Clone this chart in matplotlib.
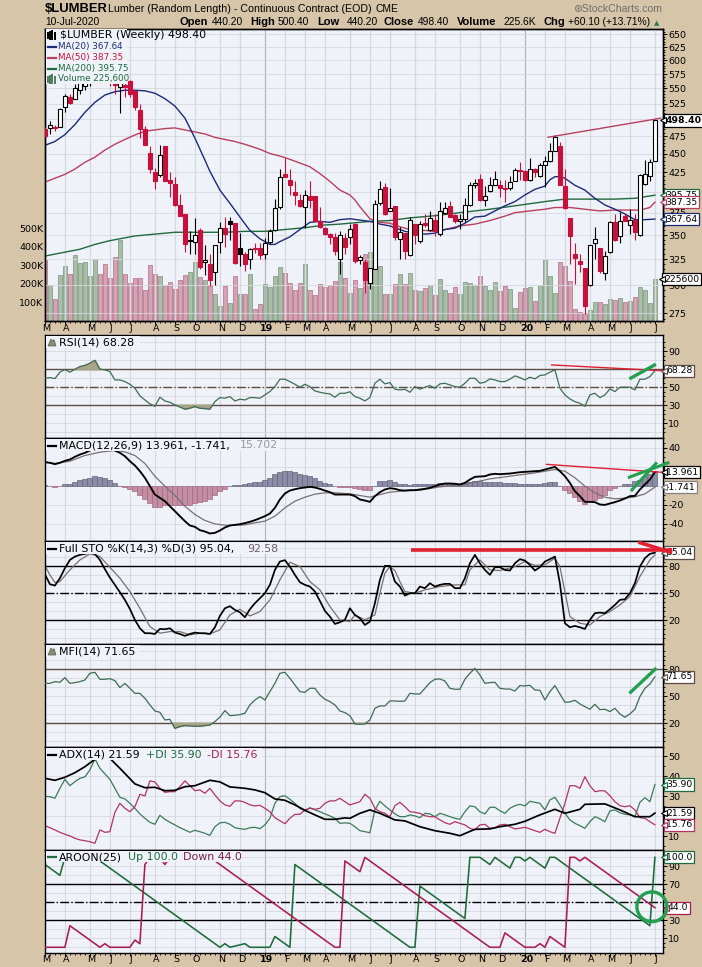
import numpy as np
import matplotlib
matplotlib.use("Agg")
import matplotlib.pyplot as plt
from matplotlib.lines import Line2D
from matplotlib.patches import Rectangle, Ellipse, Polygon
from matplotlib.transforms import blended_transform_factory

W, H = 702, 967

# --- price data, weekly, March 2018 to July 2020 ---
opens = [485, 487, 489, 489, 519, 535, 532, 547, 555, 560, 565, 575, 572, 568, 558, 552, 556, 562, 546, 515,
         485, 451, 425, 421, 460, 415, 410, 384, 373, 344.5, 343, 356, 322, 320, 312, 343, 358, 365, 363, 336,
         330, 325, 336, 336, 330, 343, 355, 382, 422, 415, 400, 390, 382, 395, 395, 366, 358, 351, 348, 325,
         347, 348, 362, 324, 322, 302, 315, 386, 406, 377, 383, 346, 352, 329, 362, 344, 363, 355, 367, 351,
         375, 383, 372, 365, 368, 384, 408, 416, 390, 401, 409, 409, 405, 405, 413, 428, 427, 415, 429, 420,
         434, 440, 454, 461, 407, 369, 330, 323, 316, 300, 342, 336, 311, 332, 364, 349, 371, 361, 367, 350,
         410, 420, 440.2]
highs = [489, 497, 492, 518, 541, 541, 558, 580, 580, 585, 590, 590, 585, 580, 558, 585, 566, 565, 548, 524,
         490, 460, 430, 462, 460, 425, 419, 397, 373, 354, 369, 358, 339, 330, 339, 364, 370, 370, 363, 352,
         332, 336, 342, 341, 347, 357, 391, 429, 444, 429, 414, 397, 402, 413, 395, 382, 359, 352, 352, 354,
         352, 362, 363, 329, 325, 316, 390, 413, 411, 405, 383, 359, 352, 370, 362, 366, 374, 377, 373, 387,
         388, 389, 373, 373, 392, 412, 416, 423, 407, 419, 426, 415, 415, 420, 430, 439, 428, 444, 430, 437,
         447, 465, 476, 467, 429, 369, 342, 330, 316, 339, 359, 336, 333, 365, 374, 376, 373, 379, 373, 422,
         441, 442, 500.4]
lows = [475, 478, 483, 488, 511, 524, 532, 541, 548, 555, 560, 565, 560, 555, 540, 510, 535, 535, 515, 472,
        462, 424, 404, 418, 413, 393, 383, 371, 332, 330, 330, 315, 309, 299, 300, 331, 337, 345, 320, 318,
        313, 315, 331, 325, 325, 340, 354, 379, 418, 396, 384, 382, 358, 380, 365, 358, 350, 340, 329, 310,
        330, 340, 321, 320, 293, 296, 315, 384, 372, 377, 345, 325, 325, 328, 340, 342, 359, 354, 349, 349,
        374, 370, 363, 357, 364, 383, 405, 389, 383, 400, 408, 394, 388, 402, 413, 415, 413, 414, 419, 418,
        406, 438, 453, 408, 379, 320, 301, 312, 274, 299, 325, 311, 305, 331, 344, 342, 365, 351, 345, 349,
        409, 414, 440.2]
closes = [475, 491, 487, 517, 538, 526, 550, 560, 565, 570, 575, 572, 568, 563, 556, 570, 552, 541, 520, 485,
          462, 429, 414, 448, 414, 411, 384, 371, 340, 343.5, 350, 317, 324, 305, 339, 358, 351, 362, 321, 330,
          320, 335, 335, 329, 342, 354, 381, 419, 419, 408, 396, 383, 396, 390, 366, 359, 351, 348, 333, 350,
          337, 357, 323, 327, 305, 316, 385, 404, 374, 381, 348, 353, 333, 367, 350, 362, 361.5, 369, 354, 377,
          381, 370, 365, 368, 384, 408, 411, 390, 395, 409, 416, 405, 403, 412, 428, 426, 415, 429, 425, 434,
          440, 454, 474, 409, 380, 349, 326, 320, 281, 339, 346, 313, 328, 364, 345, 366, 366, 367, 353, 421,
          423, 438, 498.4]
volumes = [328, 196, 120, 250, 299, 256, 358, 315, 320, 245, 337, 256, 310, 234, 348, 440, 256, 207, 234, 234,
           170, 304, 252, 245, 196, 212, 175, 223, 250, 267, 321, 240, 223, 196, 148, 83, 191, 99, 245, 148,
           148, 256, 67, 94, 202, 186, 245, 294, 261, 207, 170, 207, 310, 170, 142, 202, 186, 196, 218, 321,
           234, 153, 220, 180, 364, 375, 376, 295, 148, 148, 202, 256, 202, 261, 170, 162, 180, 196, 142, 229,
           170, 153, 186, 148, 213, 207, 196, 245, 191, 170, 213, 164, 191, 175, 72, 159, 180, 186, 110, 196,
           331, 245, 153, 321, 295, 218, 67, 50, 45, 61, 105, 105, 94, 120, 115, 126, 105, 110, 132, 186,
           170, 99, 225.6]

ma20_weeks = [0, 2, 4, 6, 8, 10, 12, 14, 16, 18, 20, 22, 24, 26, 28, 30, 32, 33, 35, 37, 39, 41, 43, 45, 46, 47, 49,
              51, 53, 55, 57, 59, 61, 63, 65, 67, 69, 71, 72, 74, 76, 78, 80, 82, 84, 86, 88, 90, 92, 94, 96, 98,
              100, 101, 102, 103, 104, 106, 108, 110, 112, 114, 116, 118, 120, 122]
ma20 = [461.5, 467, 477, 492, 511, 527, 539, 544.5, 547, 547, 546, 542, 533, 521, 502, 472, 441, 426, 402, 386, 370,
        355, 346, 340, 340, 343, 348, 356, 364, 365, 364, 367, 368, 366.5, 365, 362, 360, 356, 354, 352, 351, 352,
        356, 357.5, 363, 370, 371, 377, 383, 388, 396, 403, 407, 415, 419, 419, 417, 408, 402, 392, 384, 379, 373.5,
        367, 367, 367.64]
ma50_weeks = [0, 2, 4, 6, 8, 10, 12, 14, 16, 18, 20, 22, 24, 26, 28, 30, 32, 34, 36, 38, 40, 43, 45, 47, 49, 51, 53,
              55, 57, 59, 61, 62, 63, 65, 67, 69, 71, 73, 74, 76, 78, 80, 83, 86, 89, 92, 94, 97, 100, 102, 105, 108,
              111, 114, 117, 119, 121, 122]
ma50 = [412, 417, 422, 429, 438, 445, 454.8, 463, 470, 476.5, 482, 484, 486, 487, 484, 481, 478, 473, 470, 467, 463,
        456, 450, 446.5, 442, 437, 432, 423, 413, 402, 396, 390, 382, 368, 364, 363, 359, 356, 355, 355, 354, 356,
        360, 362, 366, 371, 375, 377, 379, 381, 381, 379, 377, 378, 378, 378, 381, 387.35]
ma200_weeks = [0, 4, 7, 10, 13, 15, 18, 22, 26, 30, 36, 40, 44, 48, 52, 56, 59, 61, 65, 69, 73, 78, 83, 89, 94, 100,
               104, 109, 114, 118, 122]
ma200 = [328, 332, 335, 340, 344, 346, 349, 351, 353, 353, 353, 354, 354, 356, 358, 361, 362, 363, 365, 366, 369,
         371.5, 375, 379, 383, 388, 391, 391, 391, 392, 395.75]

# --- indicators ---
rsi = [60, 60.7, 59.6, 66.7, 69.6, 66.7, 70, 73, 74.4, 76.7, 80, 70, 69.3, 67.4, 58.1, 58.1, 56.3, 53.3, 48.9, 40.4,
       35.9, 31.5, 28.9, 38.9, 34.8, 33.3, 30.4, 28.1, 25.6, 26.7, 28.5, 26.7, 26.3, 25.6, 34, 38.5, 37.8, 39.6, 34.8,
       36.7, 35.9, 38.5, 38.5, 37.8, 41.5, 45.2, 50.7, 58.9, 58.9, 56.3, 53.3, 50, 53.3, 50.7, 45.9, 44.4, 43.3, 42.6,
       38.9, 43.3, 43.3, 45,
       39.6, 37.8, 34.8, 38.5, 54.4, 58.9, 53.7, 55.2, 47.8, 47, 47.8, 44.4, 50.7, 47.8, 50, 51.9, 48.9, 53.7, 54.4,
       52.6, 50.7, 50, 54.4, 60, 60, 54.4, 55.6, 59.3, 58.1, 56.3, 56.3, 58.9, 62.6, 60.7, 58.1, 61.1, 59.3, 63, 63.7,
       66.7, 69.3, 48.9, 41.5, 37, 34, 32.2, 28.9, 41.5, 43.3, 38.5, 41.5, 48.1, 45.2, 50, 50, 50, 47, 58.9, 58.9,
       61.9, 68.28]

macd = [24.6, 23.9, 22.5, 23.9, 26, 27.4, 30.2, 32.6, 34.4, 36.8, 39.6, 41.4, 42.1, 40.7, 36.8, 34.4, 30.9, 25.6, 21.1,
        15.1, 8.1, -0.7, -9.5, -13, -16.5, -21.8, -27, -32.3, -37.5, -42.1, -43.5, -47, -48.4, -50.5, -49.8, -47.4,
        -44.2, -42.1, -41.4, -40.7, -39.6, -38.2, -36.5, -34.4, -32.3, -29.5, -23.5, -14.7, -8.4, -5.3, -3.9, -2.8,
        -2.1, -1.4, -2.1, -3.5, -5.3, -7, -9.5, -9.5, -9.5, -9.5,
        -11.2, -14.7, -15.8, -17.2, -11.2, -7, -4.2, -2.8, -3.5, -4.9, -5.3, -4.9, -4.9, -4.2, -3.5, -2.5, -0.7, 1.1,
        2.1, 2.1, 1.8, 1.1, 2.8, 6.3, 9.1, 9.5, 9.8, 11.6, 12.3, 11.9, 12.3, 12.6, 13.3, 14, 14.4, 14.7, 15.1, 15.4,
        16.8, 18.2, 19.6, 15.1, 9.8, 2.8, -6, -11.2, -17.2, -17.2, -17.5, -20, -20.4, -18.9, -17.5, -15.8, -13.7,
        -11.2, -10.9, -4.2, 1.1, 6.3, 13.961]
signal_weeks = [0, 2, 5, 8, 11, 14, 16, 18, 20, 22, 24, 26, 28, 30, 32, 34, 36, 38, 40, 42, 44, 46, 48, 50, 52, 54, 56,
                58, 61, 63, 65, 67, 69, 72, 75, 79, 83, 86, 89, 94, 98, 102, 104, 106, 108, 110, 112, 114, 116, 118,
                120, 122]
signal = [24.6, 23.2, 25.6, 31.6, 35.1, 36.8, 35.4, 31.6, 23.2, 9.8, -0.7, -10.5, -21.8, -30.5, -36.8, -40.4, -41.8,
          -41.8, -41.4, -39.3, -37.5, -32.3, -23.5, -16.5, -12.3, -9.1, -7.7, -7.7, -8.8, -10.5, -12.3, -9.5, -7,
          -5.6, -4.9, -1.4, 0.4, 3.5, 7, 10.5, 13.3, 16.8, 15.1, 8.1, -0.7, -7.7, -12.3, -14, -13.3, -11.9, -8.8,
          -1.741]
macd_hist = [0.4, -0.7, -1.8, -0.7, 1.8, 1.8, 3.5, 5.3, 6.7, 8.1, 9.5, 9.1, 7.4, 5.6, 2.8, 0, -1.4, -3.5, -5.6, -9.5,
             -13.7, -18.2, -22.8, -22.8, -20.7, -20.7, -20.7, -20.7, -20.7, -20, -18.2, -17.5, -16.5, -14.7, -10.5, -6,
             -3.5, 0, 0.7, 0.7, 1.8, 2.8, 3.5, 3.9, 5.6, 8.1, 11.6, 14.4, 15.8, 15.8, 14.7, 12.3, 10.9, 9.8, 8.1, 4.6,
             2.8, 1.1, -0.7, -1.4, -1.4, -1.4,
             -2.5, -3.5, -4.9, -4.9, 0, 4.6, 4.6, 6, 3.5, 2.1, 1.4, 0.7, 1.4, 1.8, 1.8, 1.8, 1.8, 2.8, 2.8, 2.8, 2.5,
             2.1, 2.8, 3.5, 4.6, 4.6, 4.2, 3.5, 3.5, 3.5, 2.8, 2.8, 2.8, 2.1, 1.4, 1.4, 1.4, 2.1, 2.8, 3.5, 3.9, 0,
             -4.2, -7.7, -12.3, -16.5, -19, -16.5, -15.4, -12.9, -10.2, -4.2, -2.5, 0, 2.1, 2.1, 4.6, 6.3, 9.8, 12.6,
             15.702]

sto_k = [71.1, 60, 58.5, 66.7, 77.8, 87, 90.7, 92.6, 93.7, 95.2, 93.7, 87, 76.7, 67.4, 59.3, 51.1, 42.6, 32.6, 20.4,
         11.1, 5.6, 5.6, 4.8, 10.4, 10, 11.1, 6.3, 4.8, 2.6, 4.8, 6.3, 5.6, 5.6, 4.8, 12.2, 24.8, 33.3, 35.6, 31.5,
         28.9, 23.3, 32.2, 38.9, 44.4, 50, 59.3, 75.9, 85.2, 86.7, 79.6, 70.4, 62.2, 59.3, 57.4, 51.9, 41.5, 30.4,
         24.1, 15.9, 17.8, 20.4, 33.3,
         25.9, 22.2, 14.8, 18.5, 38.9, 64.8, 80.4, 80.4, 63, 57.4, 47.4, 50, 50, 57.4, 55.6, 61.1, 57.4, 59.3, 60.4,
         60.4, 55.6, 55.6, 66.7, 83.3, 92.6, 83.3, 75.9, 70.4, 78.9, 78.9, 75.9, 75.2, 83.3, 87.8, 86.3, 81.5, 75.2,
         78.9, 85.2, 87.8, 90.7, 61.1, 16.7, 12.2, 13.7, 12.2, 10.4, 20.4, 27.8, 28.5, 27.8, 32.2, 37, 42.6, 43.3,
         50, 61.1, 79.6, 88.9, 93.7, 95.04]
sto_d_weeks = [0, 1, 2, 3, 5, 7, 9, 11, 13, 15, 17, 19, 21, 23, 25, 27, 29, 31, 33, 35, 37, 39, 41, 43, 45, 47, 49, 51,
               53, 55, 57, 59, 61, 62, 64, 66, 67, 68, 69, 70, 71, 72, 74, 76, 79, 82, 84, 85, 87, 89, 91, 94, 96, 98,
               100, 102, 103, 105, 107, 109, 111, 113, 115, 117, 119, 121, 122]
sto_d = [80.7, 70.4, 61.9, 63, 75.9, 87, 93.7, 90.7, 78.9, 66.7, 51.9, 33.3, 13, 5.6, 7.4, 7.4, 3.7, 5.6, 4.8, 9.3,
         25.9, 32.2, 24.8, 29.6, 42.6, 64.8, 84.4, 79.6, 63, 53.7, 35.2, 20.4, 18.5, 25.9, 20.4, 26, 50, 72.2, 79.6,
         75.2, 63, 51.9, 50, 53.7, 57.4, 59.3, 59.3, 75.9, 87, 75.9, 75.2, 79.6, 85.2, 81, 81.5, 88.9, 79.6, 24.1,
         16.7, 14.8, 24.1, 29.6, 37, 46.3, 68.5, 87, 92.58]

mfi = [64.4, 64.4, 66.3, 65.6, 70.7, 64.4, 65.2, 66.3, 68.1, 75.6, 76.7, 68.9, 68.9, 69.6, 67.4, 59.6, 64.4, 58.9, 53.3,
       53.3, 47.8, 40.4, 33.7, 32.2, 23.7, 24.4, 14.4, 16.3, 17.4, 17, 16.7, 16.7, 17.4, 18.1, 21.9, 26.7, 34.1, 28.5,
       28.9, 29.6, 31.1, 40.4, 45.9, 49.6, 45.9, 55.2, 64.4, 75.6, 76.7, 70, 62.6, 55.2, 54.4, 58.9, 58.9, 51.5, 46.7,
       44.1, 40.4, 33.7, 31.9, 28.5,
       19.3, 18.9, 19.3, 23.7, 36.7, 39.3, 39.3, 44.8, 44.8, 44.4, 44.8, 53.3, 52.6, 52.6, 58.9, 65.2, 68.9, 69.3, 67,
       58.9, 57.8, 57.8, 68.9, 75.6, 81.1, 73.7, 64.4, 65.2, 65.6, 58.9, 58.1, 58.1, 55.9, 61.9, 61.5, 62.2, 57, 56.7,
       45.9, 55.2, 61.9, 52.6, 43.3, 43.7, 45.6, 41.5, 38.5, 35.6, 41.1, 35.2, 35.6, 33, 36.7, 30.4, 26.7, 30.4, 35.6,
       49.6, 58.9, 63.7, 71.65]

adx_weeks = [0, 2, 4, 6, 8, 10, 11, 13, 15, 18, 20, 22, 24, 26, 28, 30, 33, 35, 37, 40, 42, 44, 46, 48, 50, 52, 54, 56,
             58, 60, 61, 63, 65, 67, 70, 72, 75, 78, 81, 83, 86, 89, 91, 94, 96, 99, 102, 104, 107, 108, 112, 115, 118,
             121, 122]
adx = [39, 38, 39.5, 41.8, 44.8, 48.5, 50, 49, 44, 36.2, 34.3, 34.5, 32.8, 33, 34.8, 35.3, 38, 37.2, 34.7, 34, 33.2,
       31.8, 28.7, 28, 25.7, 23, 20.7, 18.5, 18.5, 19.2, 19, 21.5, 23.2, 21.5, 18.2, 17.7, 14.8, 12.8, 11.5, 10.3, 13.5,
       13.7, 14.8, 16, 17.5, 20.7, 23.5, 21.5, 23.5, 26, 26.2, 23.2, 19.8, 19.8, 21.59]
plus_di = [30, 29.8, 29, 34, 38.5, 35.3, 37.3, 39, 39.7, 43.2, 48.7, 44, 41.2, 38.5, 34, 29.5, 28.7, 26.5, 24, 21.2, 19,
           17, 16, 20.5, 18.5, 17, 15.7, 14.3, 13.2, 12, 13, 12.3, 11.5, 10.5, 14.8, 16.7, 17, 16, 14.3, 13.8, 13.5,
           14.3, 14.5, 13.8, 15.7, 19, 26.5, 29.8, 30.3, 28.5, 26.5, 24, 22.7, 24.3, 23.2, 22.3, 21.2, 20.2, 19, 16.5,
           16.7, 16.5,
           14.8, 12.8, 12.3, 11.8, 23.2, 27.5, 25.2, 23.2, 21.2, 19.8, 19.8, 20.7, 20.2, 19.3, 21.5, 21.2, 19.8, 21.5,
           20.7, 19.8, 19, 18.5, 22.3, 25.2, 24.8, 22.3, 21.2, 24.5, 24.5, 22.8, 21.5, 24, 25.3, 26, 25.2, 27.5, 27,
           26.5, 23.2, 28.2, 29.5, 25.7, 21.5, 18.2, 16.5, 15.3, 14, 17.3, 19.8, 18.7, 17.3, 22.7, 23.2, 21.8, 21, 20.7,
           19.8, 27, 29.3, 27.3, 35.9]
minus_di = [15.3, 14.3, 13.2, 12, 11, 10.2, 9, 8.2, 7.8, 7.3, 6.5, 13.2, 12, 12.3, 22, 26.5, 24, 22.3, 24.8, 31, 30.2,
            37.7, 37.2, 34, 32, 32.3, 32.3, 34.8, 37.7, 35.3, 32.8, 33.2, 31.5, 34, 30.7, 27.7, 25.7, 25, 27.7, 27.7,
            27, 25.7, 25.2, 25.5, 24, 22.3, 19.3, 17.8, 16.3, 19, 21, 21, 23.2, 24, 23.5, 24, 26.5, 27.7, 27.7, 29, 27.3,
            25.7,
            26.5, 27.3, 31, 29, 24, 22.3, 21.5, 19.8, 25.3, 27, 24.8, 22.3, 22, 21.5, 20.3, 19.8, 19.8, 18.2, 16.8, 16,
            17.3, 16.5, 15.7, 14, 13.2, 15.7, 16, 14, 14.3, 15.7, 16, 14.8, 13.7, 14, 14.5, 13.7, 12.8, 12, 13.5, 12.3,
            11.5, 19, 26.5, 35.3, 35.3, 34, 39.8, 35.3, 32.3, 32.8, 32.7, 30.3, 27.3, 25.3, 24.8, 25.3, 23.2, 19.3, 19,
            17.3, 15.76]

aroon_up_weeks = [0, 3, 4, 10, 35, 36, 37, 40, 41, 45, 46, 49, 50, 61, 73, 74, 75, 84, 85, 87, 89, 90, 93, 94, 95, 96,
                  97, 100, 101, 102, 121, 122]
aroon_up = [92, 80, 100, 100, 0, 4, 0, 4, 0, 0, 12, 0, 92, 48, 0, 0, 68, 32, 100, 100, 92, 100, 88, 100, 100, 96, 100,
            88, 100, 100, 24, 100]
aroon_dn_weeks = [0, 4, 5, 11, 12, 13, 17, 18, 19, 20, 21, 23, 24, 25, 33, 58, 59, 60, 61, 62, 63, 64, 89, 91, 92, 96,
                  98, 99, 100, 101, 104, 105, 106, 107, 108, 122]
aroon_dn = [0, 0, 24, 0, 4, 0, 0, 8, 4, 92, 100, 100, 92, 100, 100, 0, 0, 96, 92, 88, 84, 100, 0, 0, 16, 0, 0, 4, 0, 12,
            0, 100, 100, 96, 100, 44]

# tick labels
month_weeks = [0, 4, 9, 13, 17, 22, 26, 30, 35, 39, 44, 48, 52, 56, 61, 65, 69, 74, 78, 83, 87, 91, 96, 100, 104, 109,
               113, 117, 122]
month_labels = ['M', 'A', 'M', 'J', 'J', 'A', 'S', 'O', 'N', 'D', '19', 'F', 'M', 'A', 'M', 'J', 'J', 'A', 'S', 'O',
                'N', 'D', '20', 'F', 'M', 'A', 'M', 'J', 'J']
price_ticks = [275, 300, 325, 350, 375, 400, 425, 450, 475, 500, 525, 550, 575, 600, 625, 650]
# 400 and 500 sit behind the value tags
price_labels = ['275', '300', '325', '350', '375', '', '425', '450', '475', '', '525', '550', '575', '600', '625', '650']
volume_ticks = [100, 200, 300, 400, 500]

BG = '#D6C5A9'
PANEL = '#EFF2F9'
GRID = '#D6D8E0'
YEAR_GRID = '#B2B4BA'
RED = '#C8103C'
NAVY = '#1C2A78'
MA_RED = '#B8405E'
GREEN = '#1F6B3C'
DI_GREEN = '#3C7A58'
DI_RED = '#B03464'
BROWN = '#5C4C44'
DRAW_GREEN = '#22A050'
DRAW_RED = '#E01F30'

weeks = np.arange(len(closes))


def px_rect(x0, y0, x1, y1):
    return [x0 / W, 1 - y1 / H, (x1 - x0) / W, (y1 - y0) / H]


def ftext(x, y, s, **kw):
    kw.setdefault('fontsize', 7.9)
    kw.setdefault('va', 'center')
    kw.setdefault('color', 'black')
    return fig.text(x / W, 1 - y / H, s, zorder=8, **kw)


def new_panel(y0, y1, ylim, ticks, grid_y, minor=None, labels=None):
    ax = fig.add_axes(px_rect(44.7, y0, 662.7, y1), facecolor=PANEL)
    ax.set_xlim(-0.04, 123.56)
    ax.set_ylim(*ylim)
    style_panel(ax, ticks, grid_y, minor, labels)
    return ax


def style_panel(ax, ticks, grid_y, minor=None, labels=None):
    ax.yaxis.tick_right()
    ax.set_yticks(ticks)
    ax.set_yticklabels(labels if labels is not None else [str(t) for t in ticks], fontsize=6.8)
    if minor is not None:
        ax.set_yticks(minor, minor=True)
    else:
        ax.yaxis.set_minor_locator(plt.NullLocator())
    ax.tick_params(axis='y', which='major', length=3, width=0.7, pad=1)
    ax.tick_params(axis='y', which='minor', length=1.5, width=0.6)
    ax.set_xticks(month_weeks)
    ax.set_xticklabels([])
    ax.tick_params(axis='x', length=0)
    for w in month_weeks:
        yearly = w in (44, 96)
        ax.axvline(w, color=YEAR_GRID if yearly else GRID, lw=0.8, zorder=0.5)
    for g in grid_y:
        ax.axhline(g, color=GRID, lw=0.6, zorder=0.5)
    for s in ax.spines.values():
        s.set_linewidth(1.0)
        s.set_color('black')


def month_row(ax, y_frac):
    trans = blended_transform_factory(ax.transData, ax.transAxes)
    ax.set_xticks(weeks, minor=True)
    ax.tick_params(axis='x', which='minor', length=1.2, width=0.6)
    ax.tick_params(axis='x', which='major', length=2.5, width=0.7)
    for w, lab in zip(month_weeks, month_labels):
        yr = lab in ('19', '20')
        ax.text(w + 0.3, y_frac, lab, transform=trans, ha='center', va='center', fontsize=6.8,
                fontweight='bold' if yr else 'normal', clip_on=False)


def tag(ax, val, label, edge, bold=False, yax=None, x_px=665.5):
    src = yax if yax is not None else ax
    trans = blended_transform_factory(fig.transFigure, src.transData)
    ax.text(x_px / W, val, label, transform=trans, fontsize=6.7, va='center', ha='left', clip_on=False, zorder=7,
            fontweight='bold' if bold else 'normal',
            bbox=dict(boxstyle='square,pad=0.18', fc='white', ec=edge, lw=0.9))
    ax.plot([(x_px - 2.5) / W], [val], marker='<', ms=4, mfc='white', mec=edge, mew=0.8, transform=trans,
            clip_on=False, zorder=7)


def legend_box(x0, y0, x1, y1):
    fig.add_artist(Rectangle((x0 / W, 1 - y1 / H), (x1 - x0) / W, (y1 - y0) / H, transform=fig.transFigure,
                             fc=PANEL, ec='none', zorder=6))


def key_line(x0, x1, y, color, lw=1.6):
    fig.add_artist(Line2D([x0 / W, x1 / W], [1 - y / H, 1 - y / H], color=color, lw=lw, transform=fig.transFigure,
                          zorder=8))


def key_bars(x, y, color, lw=1.4):
    for k, (a, b) in enumerate([(3, -2), (4, -3), (4, -4), (4, -2)]):
        fig.add_artist(Line2D([(x + k * 2.2) / W] * 2, [1 - (y + a) / H, 1 - (y + b) / H], color=color, lw=lw,
                              transform=fig.transFigure, zorder=8))


def key_mountain(x, y):
    pts = [(x, y + 3.5), (x + 3, y - 3.5), (x + 5, y - 1), (x + 6, y - 3), (x + 8, y + 3.5)]
    fig.add_artist(Polygon([(a / W, 1 - b / H) for a, b in pts], closed=True, fc='#8E8A74', ec='#55604C', lw=0.5,
                           transform=fig.transFigure, zorder=8))


def hand_line(ax, x, y, color, lw):
    ax.plot(x, y, color=color, lw=lw, clip_on=False, zorder=9, solid_capstyle='butt')


fig = plt.figure(figsize=(W / 100, H / 100), dpi=100, facecolor=BG)

# ---- price panel with volume behind ----
ax_vol = new_panel(28.5, 321, (0, 1581), [], [])
ax_vol.yaxis.tick_left()
ax_vol.set_yticks(volume_ticks)
ax_vol.set_yticklabels([f'{v}K' for v in volume_ticks], fontsize=6.8)
ax_vol.tick_params(axis='y', length=0, pad=1)
vol_colors = ['#A9BDA9' if i and closes[i] > closes[i - 1] else '#D5A3B2' for i in range(len(closes))]
vol_edges = ['#86A088' if i and closes[i] > closes[i - 1] else '#B87D92' for i in range(len(closes))]
ax_vol.bar(weeks, volumes, width=0.92, color=vol_colors, edgecolor=vol_edges, linewidth=0.6, zorder=1)

ax = fig.add_axes(px_rect(44.7, 28.5, 662.7, 321))
ax.patch.set_alpha(0)
ax.set_yscale('log')
ax.set_xlim(-0.04, 123.56)
ax.set_ylim(268.5, 661.7)
style_panel(ax, price_ticks, price_ticks, minor=list(range(270, 660, 5)), labels=price_labels)
ax.yaxis.set_minor_formatter(plt.NullFormatter())

ax.plot(ma200_weeks, ma200, color=GREEN, lw=1.0, zorder=2)
ax.plot(ma50_weeks, ma50, color=MA_RED, lw=1.0, zorder=2)
ax.plot(ma20_weeks, ma20, color=NAVY, lw=1.0, zorder=2)

for i in weeks:
    o, h, l, c = opens[i], highs[i], lows[i], closes[i]
    up = c > o
    is_red = (not up) and (i == 0 or c <= closes[i - 1])
    col = RED if is_red else 'black'
    ax.vlines(i, l, h, color=col, lw=0.8, zorder=3)
    bottom, top = min(o, c), max(o, c)
    ax.bar(i, top - bottom, bottom=bottom, width=0.72, color='white' if up else col, edgecolor=col, linewidth=0.8,
           zorder=4)

hand_line(ax, [100.5, 123.3], [473, 502], MA_RED, 1.0)
month_row(ax, -0.024)

tag(ax, 395.75, '395.75', GREEN)
tag(ax, 387.35, '387.35', MA_RED)
tag(ax, 367.64, '367.64', NAVY)
tag(ax, 225.6, '225600', 'black', yax=ax_vol, x_px=664)
tag(ax, 498.40, '498.40', 'black', bold=True)

# ---- RSI ----
ax_rsi = new_panel(335, 438.3, (-6.7, 108), [10, 30, 50, 70, 90], range(0, 110, 10), minor=range(0, 105, 5),
                   labels=['10', '30', '50', '', '90'])
ax_rsi.axhline(70, color=BROWN, lw=1.0, zorder=1)
ax_rsi.axhline(30, color=BROWN, lw=1.0, zorder=1)
ax_rsi.axhline(50, color=BROWN, lw=1.0, ls='-.', zorder=1)
ax_rsi.fill_between(weeks, rsi, 70, where=np.array(rsi) >= 70, interpolate=True, color='#A8A488', zorder=1.5)
ax_rsi.fill_between(weeks, rsi, 30, where=np.array(rsi) <= 30, interpolate=True, color='#A8A488', zorder=1.5)
ax_rsi.plot(weeks, rsi, color='#3F6B52', lw=0.9, zorder=3)
tag(ax_rsi, 68.28, '68.28', BROWN, x_px=666)
hand_line(ax_rsi, [101.2, 123.4], [74.8, 68.4], DRAW_RED, 1.0)
hand_line(ax_rsi, [116.9, 122.2], [59.3, 75.5], DRAW_GREEN, 2.4)

# ---- MACD ----
ax_macd = new_panel(438.3, 541, (-58.4, 49.7), [-40, -20, 20, 40], range(-40, 50, 20), minor=range(-55, 50, 5),
                    labels=['-40', '-20', '', '40'])
hist_colors = ['#8C8CA6' if v >= 0 else '#C48EA2' for v in macd_hist]
ax_macd.bar(weeks, macd_hist, width=1.0, color=hist_colors, edgecolor=['#66667E' if v >= 0 else '#A4687F' for v in macd_hist],
            linewidth=0.5, zorder=1)
ax_macd.plot(signal_weeks, signal, color='#7A7074', lw=0.9, zorder=2)
ax_macd.plot(weeks, macd, color='black', lw=1.35, zorder=3)
tag(ax_macd, 13.961, '13.961', 'black', x_px=666)
tag(ax_macd, -1.741, '-1.741', '#808080', x_px=666)
hand_line(ax_macd, [100.2, 123.4], [22.3, 13.9], DRAW_RED, 1.0)
hand_line(ax_macd, [116.6, 124.9], [8.2, 24.4], DRAW_GREEN, 2.2)
hand_line(ax_macd, [117.2, 122.4], [-5.8, 24.4], DRAW_GREEN, 2.2)

# ---- Full stochastics ----
ax_sto = new_panel(541, 644.3, (-6.7, 108), [20, 50, 80], range(0, 110, 10), minor=range(0, 105, 5))
for lvl, st in ((80, '-'), (50, '-.'), (20, '-')):
    ax_sto.axhline(lvl, color='black', lw=1.0, ls=st, zorder=1)
ax_sto.plot(sto_d_weeks, sto_d, color='#7A7074', lw=0.9, zorder=2)
ax_sto.plot(weeks, sto_k, color='black', lw=1.25, zorder=3)
tag(ax_sto, 95.04, '95.04', BROWN, x_px=666)
hand_line(ax_sto, [73.2, 125.4], [97.8, 97.8], DRAW_RED, 2.6)
hand_line(ax_sto, [118.7, 125.4], [106.7, 95.1], DRAW_RED, 2.6)

# ---- MFI ----
ax_mfi = new_panel(644.3, 747.3, (-6.7, 107.8), [20, 50, 80], range(0, 110, 10), minor=range(0, 105, 5))
ax_mfi.axhline(80, color=BROWN, lw=1.0, zorder=1)
ax_mfi.axhline(20, color=BROWN, lw=1.0, zorder=1)
ax_mfi.fill_between(weeks, mfi, 20, where=np.array(mfi) <= 20, interpolate=True, color='#A8A488', zorder=1.5)
ax_mfi.plot(weeks, mfi, color='#3F6B52', lw=0.9, zorder=3)
tag(ax_mfi, 71.65, '71.65', BROWN, x_px=666)
hand_line(ax_mfi, [116.9, 122.3], [53.3, 81.4], DRAW_GREEN, 2.4)

# ---- ADX ----
ax_adx = new_panel(747.3, 850.3, (3, 54.5), [10, 30, 40, 50], range(10, 60, 10), minor=range(5, 55, 5))
ax_adx.plot(weeks, plus_di, color=DI_GREEN, lw=0.9, zorder=2)
ax_adx.plot(weeks, minus_di, color=DI_RED, lw=0.9, zorder=2)
ax_adx.plot(adx_weeks, adx, color='black', lw=1.25, zorder=3)
tag(ax_adx, 35.90, '35.90', GREEN, x_px=666)
tag(ax_adx, 21.59, '21.59', 'black', x_px=666)
tag(ax_adx, 15.76, '15.76', DI_RED, x_px=666)

# ---- Aroon ----
ax_ar = new_panel(850.3, 953.3, (-6.7, 107.8), [10, 30, 70, 90], range(0, 110, 10), minor=range(0, 105, 5))
for lvl, st in ((70, '-'), (50, '-.'), (30, '-')):
    ax_ar.axhline(lvl, color='black', lw=1.0, ls=st, zorder=1)
ax_ar.plot(aroon_up_weeks, aroon_up, color=GREEN, lw=1.15, zorder=2)
ax_ar.plot(aroon_dn_weeks, aroon_dn, color='#A81E50', lw=1.15, zorder=3)
month_row(ax_ar, -0.058)
tag(ax_ar, 100, '100.0', GREEN, x_px=666)
tag(ax_ar, 44, '44.0', '#A81E50', x_px=668)
ax_ar.add_patch(Ellipse((121.4, 45), 6, 33, fc='none', ec=DRAW_GREEN, lw=2.4, clip_on=False, zorder=9))

# ---- header ----
ftext(44.5, 9.5, '$LUMBER', fontsize=9.4, fontweight='bold', family='Liberation Sans')
ftext(108, 9.5, 'Lumber (Random Length) - Continuous Contract (EOD)', fontsize=7.65, family='Liberation Sans')
ftext(375, 9.5, 'CME', fontsize=7.4, family='Liberation Sans')
ftext(45, 22, '10-Jul-2020', fontsize=7.4, family='Liberation Sans')
for x, s, b in [(180, 'Open', True), (212, '440.20', False), (250, 'High', True), (278, '500.40', False),
                (317, 'Low', True), (347, '440.20', False), (383, 'Close', True), (418, '498.40', False),
                (457, 'Volume', True), (503, '225.6K', False), (543, 'Chg', True), (568, '+60.10 (+13.71%)', False)]:
    ftext(x, 22, s, fontsize=8 if b else 7.4, fontweight='bold' if b else 'normal', family='Liberation Sans')
ftext(654, 23, '\u25b2', fontsize=5, color='#2E7D4F')
ftext(573, 9.5, '\u229bStockCharts.com', fontsize=7.6, color='#6E6E6E', family=['Liberation Sans', 'DejaVu Sans'])

# ---- legends sit on top of the panel lines ----
legend_box(45.5, 29.3, 127, 83.5)
key_bars(48, 35, 'black')
ftext(60, 35.5, '$LUMBER (Weekly) 498.40')
key_line(48, 56, 46.5, NAVY)
ftext(58, 46.5, 'MA(20) 367.64', color=NAVY, fontsize=6.3)
key_line(48, 56, 57.5, MA_RED)
ftext(58, 57.5, 'MA(50) 387.35', color=RED, fontsize=6.3)
key_line(48, 56, 68.5, GREEN)
ftext(58, 68.5, 'MA(200) 395.75', color=GREEN, fontsize=6.3)
key_bars(48, 79, '#4F7A5C')
ftext(58, 79, 'Volume 225,600', color=GREEN, fontsize=6.3)

legend_box(45.5, 335.8, 140, 348)
key_mountain(48, 342.5)
ftext(59, 342.5, 'RSI(14) 68.28')

legend_box(45.5, 439.2, 280, 451)
key_line(48, 56, 445.5, 'black')
ftext(59, 445.5, 'MACD(12,26,9) 13.961, -1.741,')
ftext(240, 445.5, '15.702', color='#9A9A9A')

legend_box(45.5, 542, 280, 554)
key_line(48, 56, 548.5, 'black')
ftext(59, 548.5, 'Full STO %K(14,3) %D(3) 95.04,')
ftext(247, 548.5, '92.58', color='#6B6068')

legend_box(45.5, 645.2, 140, 657)
key_mountain(48, 651.5)
ftext(59, 651.5, 'MFI(14) 71.65')

legend_box(45.5, 748.2, 262, 760)
key_line(48, 56, 754.5, 'black')
ftext(59, 754.5, 'ADX(14) 21.59')
ftext(146, 754.5, '+DI 35.90', color=GREEN)
ftext(207, 754.5, '-DI 15.76', color='#A81E50')

legend_box(45.5, 851.2, 242, 862)
key_line(48, 56, 857, GREEN)
ftext(59, 857, 'AROON(25)')
ftext(128, 857, 'Up 100.0', color=GREEN)
ftext(183, 857, 'Down 44.0', color='#7A1F48')

fig.savefig('out.png', dpi=100, facecolor=BG)
